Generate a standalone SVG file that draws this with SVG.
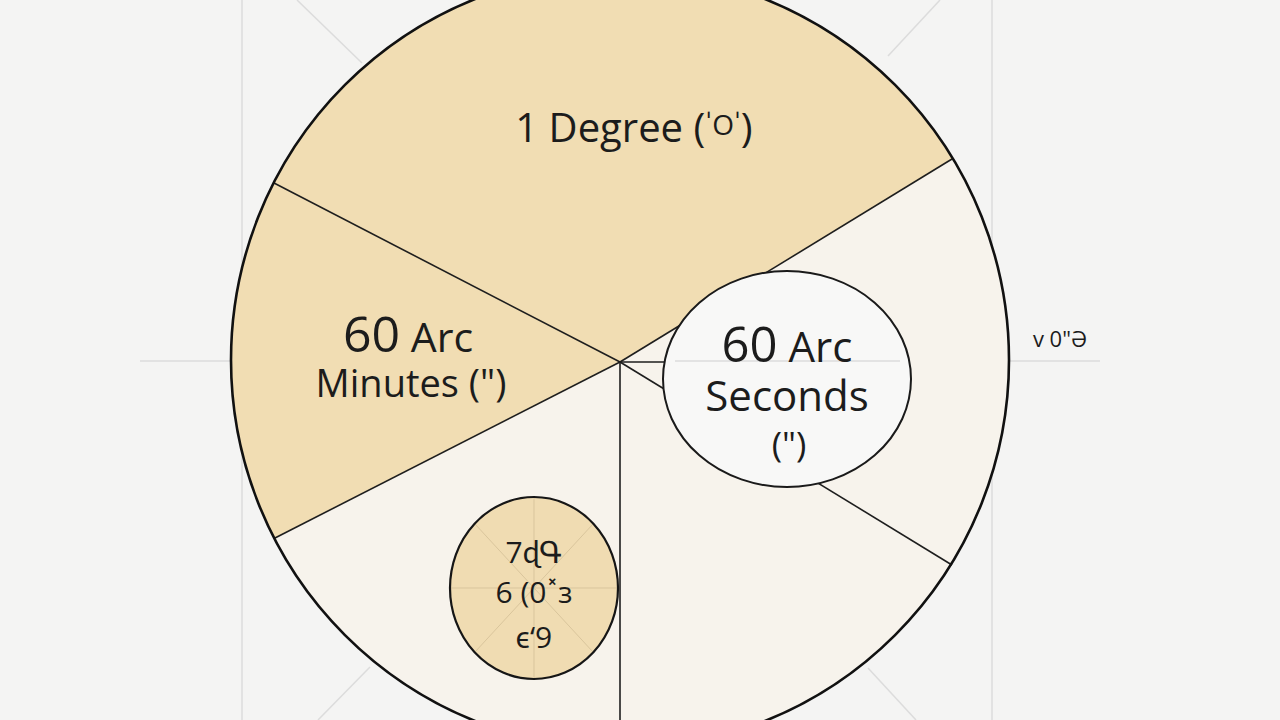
<svg xmlns="http://www.w3.org/2000/svg" width="1280" height="720" viewBox="0 0 1280 720">
  <defs>
    <clipPath id="disc">
      <circle cx="620" cy="360" r="389"/>
    </clipPath>
  </defs>
  <style>
    .guide { stroke: #dcdcdc; stroke-width: 1.5; fill: none; }
    .spoke { stroke: #1e1e1e; stroke-width: 1.6; fill: none; }
    .rim { stroke: #111; stroke-width: 2.6; }
    .lbl { font-family: "Open Sans", Lato, sans-serif; fill: #1c1c1c; text-anchor: middle; }
    .faint { stroke: #d9c59c; stroke-width: 1; }
  </style>
  <rect width="1280" height="720" fill="#f4f4f3"/>
  <g id="guides">
    <line class="guide" x1="242" y1="0" x2="242" y2="720"/>
    <line class="guide" x1="992" y1="0" x2="992" y2="720"/>
    <line class="guide" x1="140" y1="361" x2="1100" y2="361"/>
    <line class="guide" x1="297" y1="0" x2="362" y2="63"/>
    <line class="guide" x1="940" y1="0" x2="888" y2="56"/>
    <line class="guide" x1="370" y1="667" x2="318" y2="720"/>
    <line class="guide" x1="868" y1="668" x2="916" y2="720"/>
  </g>
  <g id="main-circle">
    <circle cx="620" cy="360" r="389" fill="#f7f3ec"/>
    <path d="M620,362 L-70,714 L-70,-400 L1284,-400 L1284,-44 Z" fill="#f1ddb3" clip-path="url(#disc)"/>
  </g>
  <g id="connectors">
    <line class="spoke" x1="620" y1="362" x2="274" y2="183"/>
    <line class="spoke" x1="620" y1="362" x2="275" y2="538"/>
    <line class="spoke" x1="620" y1="362" x2="952" y2="159"/>
    <line class="spoke" x1="620" y1="362" x2="952" y2="565"/>
    <line class="spoke" x1="620" y1="362" x2="620" y2="720"/>
    <line class="spoke" x1="620" y1="362" x2="700" y2="362"/>
  </g>
  <circle cx="620" cy="360" r="389" fill="none" class="rim"/>
  <g id="degree">
    <text class="lbl" x="634" y="142" font-size="40">1 Degree (<tspan font-size="28" dy="-7">ˈOˈ</tspan><tspan dy="7">)</tspan></text>
  </g>
  <g id="minutes">
    <text class="lbl" font-size="41"><tspan x="408" y="352"><tspan font-size="50">60</tspan> Arc</tspan><tspan x="411" y="397" font-size="38">Minutes (")</tspan></text>
  </g>
  <g id="seconds">
    <ellipse cx="787" cy="379" rx="124" ry="108" fill="#f8f8f7" stroke="#1a1a1a" stroke-width="2"/>
    <line class="guide" x1="675" y1="361" x2="900" y2="361" stroke-width="1"/>
    <text class="lbl" font-size="42"><tspan x="787" y="362"><tspan font-size="49">60</tspan> Arc</tspan><tspan x="787" y="411">Seconds</tspan><tspan x="789" y="457" font-size="35">(")</tspan></text>
  </g>
  <g id="small-circle">
    <ellipse cx="534" cy="588" rx="84" ry="91" fill="#f0dcb2"/>
    <line class="faint" x1="450" y1="588" x2="618" y2="588"/>
    <line class="faint" x1="534" y1="497" x2="534" y2="679"/>
    <line class="faint" x1="475" y1="524" x2="593" y2="652"/>
    <line class="faint" x1="593" y1="524" x2="475" y2="652"/>
    <ellipse cx="534" cy="588" rx="84" ry="91" fill="none" stroke="#161616" stroke-width="2.2"/>
    <text class="lbl" font-size="30"><tspan x="534" y="563">7ɖԳ</tspan><tspan x="534" y="603">6 (0˟з</tspan><tspan x="534" y="648">ϵ‘9</tspan></text>
  </g>
  <g id="side-note">
    <text class="lbl" x="1060" y="347" font-size="22">v 0"Ә</text>
  </g>
</svg>
